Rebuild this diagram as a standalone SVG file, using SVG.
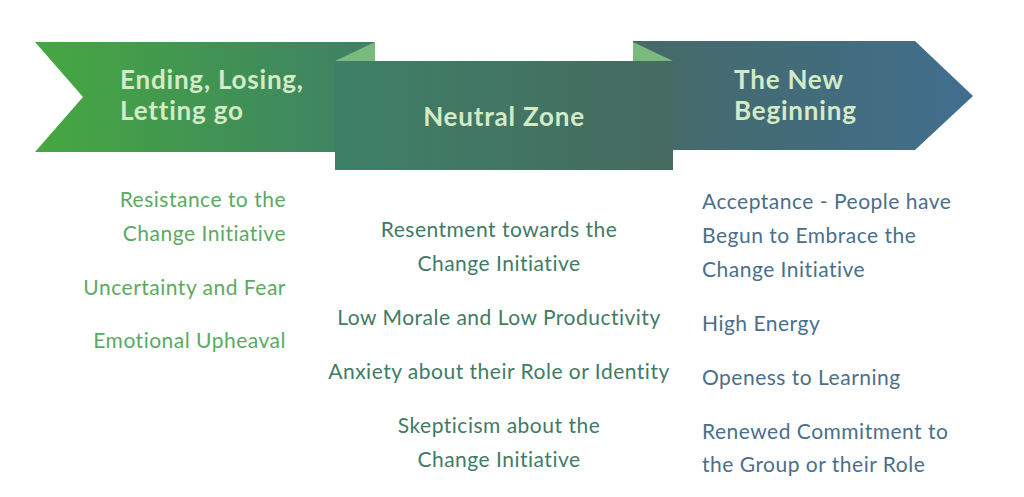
<svg xmlns="http://www.w3.org/2000/svg" width="1024" height="497" viewBox="0 0 1024 497">
  <defs>
    <linearGradient id="gLeft" gradientUnits="userSpaceOnUse" x1="35" y1="0" x2="375" y2="0">
      <stop offset="0" stop-color="#45a83f"/>
      <stop offset="1" stop-color="#3e8067"/>
    </linearGradient>
    <linearGradient id="gMid" gradientUnits="userSpaceOnUse" x1="335" y1="0" x2="673" y2="0">
      <stop offset="0" stop-color="#3e8067"/>
      <stop offset="1" stop-color="#466a60"/>
    </linearGradient>
    <linearGradient id="gRight" gradientUnits="userSpaceOnUse" x1="633" y1="0" x2="973" y2="0">
      <stop offset="0" stop-color="#456a66"/>
      <stop offset="1" stop-color="#416e8e"/>
    </linearGradient>
  </defs>
  <style>
    .head { font-family: Lato, "Open Sans", sans-serif; font-weight: 700; font-size: 26px; letter-spacing: 0.8px; fill: #d3ebc6; }
    .fold { fill: #7aba7c; }
    .item { font-family: Lato, "Open Sans", sans-serif; font-size: 21px; letter-spacing: 0.5px; }
    .l { fill: #5aaa62; text-anchor: end; }
    .m { fill: #3f7b66; text-anchor: middle; }
    .r { fill: #4a6f8a; text-anchor: start; }
  </style>
  <rect width="1024" height="497" fill="#ffffff"/>
  <g id="ending">
    <polygon points="35,42 375,42 375,152 35,152 83,97" fill="url(#gLeft)"/>
    <text class="head" x="120" y="89">Ending, Losing,</text>
    <text class="head" x="120" y="120">Letting go</text>
  </g>
  <g id="new-beginning">
    <polygon points="633,41 915,41 973,96 915,150 633,150" fill="url(#gRight)"/>
    <text class="head" x="734" y="89">The New</text>
    <text class="head" x="734" y="120">Beginning</text>
  </g>
  <g id="neutral">
    <polygon class="fold" points="335,61 375,42 375,61"/>
    <polygon class="fold" points="633,42 673,61 633,61"/>
    <rect x="335" y="61" width="338" height="109" fill="url(#gMid)"/>
    <text class="head" x="504" y="126" text-anchor="middle">Neutral Zone</text>
  </g>
  <g id="ending-items" class="item l">
    <text x="286" y="207">Resistance to the</text>
    <text x="286" y="241">Change Initiative</text>
    <text x="286" y="295">Uncertainty and Fear</text>
    <text x="286" y="348">Emotional Upheaval</text>
  </g>
  <g id="neutral-items" class="item m">
    <text x="499" y="237">Resentment towards the</text>
    <text x="499" y="271">Change Initiative</text>
    <text x="499" y="325">Low Morale and Low Productivity</text>
    <text x="499" y="379">Anxiety about their Role or Identity</text>
    <text x="499" y="433">Skepticism about the</text>
    <text x="499" y="467">Change Initiative</text>
  </g>
  <g id="beginning-items" class="item r">
    <text x="702" y="209">Acceptance - People have</text>
    <text x="702" y="243">Begun to Embrace the</text>
    <text x="702" y="277">Change Initiative</text>
    <text x="702" y="331">High Energy</text>
    <text x="702" y="385">Openess to Learning</text>
    <text x="702" y="439">Renewed Commitment to</text>
    <text x="702" y="472">the Group or their Role</text>
  </g>
  <g id="connectors"/>
</svg>
